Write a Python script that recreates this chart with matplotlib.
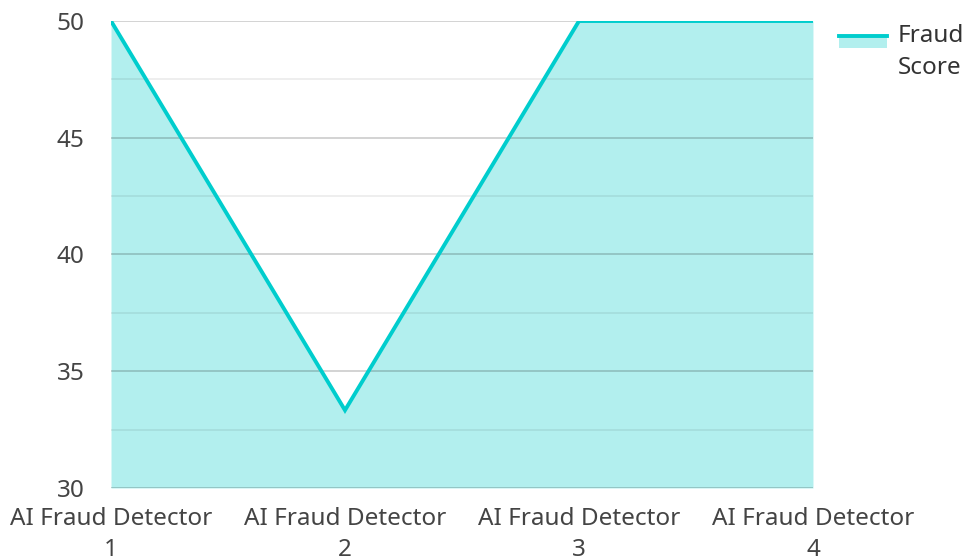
import matplotlib
matplotlib.use("Agg")
import matplotlib.pyplot as plt
from matplotlib.patches import Rectangle, Patch
from matplotlib.lines import Line2D

categories = ["AI Fraud Detector\n1", "AI Fraud Detector\n2", "AI Fraud Detector\n3", "AI Fraud Detector\n4"]
scores = [50, 33.33, 50, 50]
series_name = "Fraud\nScore"
yticks = [30, 35, 40, 45, 50]

plt.rcParams['font.family'] = ['Noto Sans', 'DejaVu Sans']

line_color = "#00CDCD"
fill_color = "#B2EFEE"
FS = 17.5

fig = plt.figure(figsize=(9.67, 5.6), dpi=100)
ax = fig.add_axes([0.1148, 0.1286, 0.7259, 0.8339])
ax.set_axisbelow(False)
x = list(range(len(categories)))
ax.fill_between(x, scores, 30, color=fill_color, lw=0, zorder=2)
ax.plot(x, scores, color=line_color, lw=2.8, zorder=3, solid_joinstyle='miter')

ax.set_xlim(0, len(categories) - 1)
ax.set_ylim(30, 50)
ax.set_yticks(yticks)
ax.set_yticks([32.5, 37.5, 42.5, 47.5], minor=True)
ax.grid(True, which='major', axis='y', color='#000000', alpha=0.2, lw=1.2)
ax.grid(True, which='minor', axis='y', color='#000000', alpha=0.08, lw=1.2)
ax.set_xticks(x)
ax.set_xticklabels(categories, fontsize=FS, color='#444444', linespacing=1.37)
ax.tick_params(axis='y', labelsize=FS, labelcolor='#444444', length=0, pad=19)
ax.tick_params(axis='x', length=0, pad=14)
ax.tick_params(axis='y', which='minor', length=0)
for s in ax.spines.values():
    s.set_visible(False)


class AreaHandler:
    def legend_artist(self, legend, orig_handle, fontsize, handlebox):
        xd, yd = handlebox.xdescent, handlebox.ydescent
        w, h = handlebox.width, handlebox.height
        yc = h / 2 - yd
        top = yc + 11.5
        rect = Rectangle((-xd, yc + 3), w, top - (yc + 3), facecolor=fill_color, edgecolor='none')
        line = Line2D([-xd, -xd + w], [top, top], color=line_color, lw=2.8)
        handlebox.add_artist(rect)
        handlebox.add_artist(line)
        return rect


handle = Patch(facecolor=fill_color)
leg = fig.legend([handle], [series_name], loc='upper left', bbox_to_anchor=(0.8673, 0.958),
                 frameon=False, fontsize=FS, handlelength=2.0, handletextpad=0.42,
                 handler_map={Patch: AreaHandler()}, labelcolor='#333333',
                 borderaxespad=0, borderpad=0)
for t in leg.get_texts():
    t.set_multialignment('left')
    t.set_linespacing(1.45)

fig.savefig("out.png", dpi=100)
